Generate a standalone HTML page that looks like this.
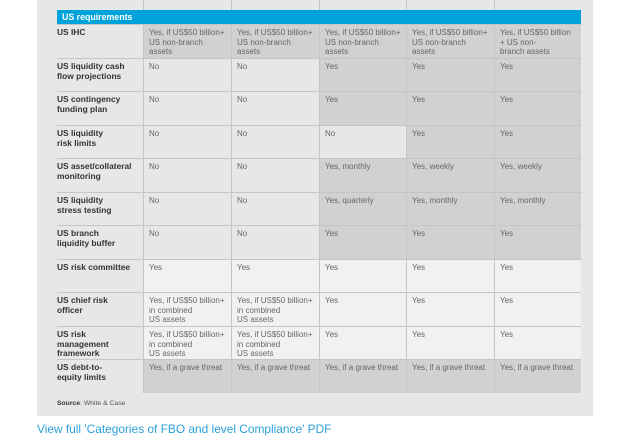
<!DOCTYPE html>
<html><head><meta charset="utf-8"><style>
body{margin:0;width:629px;height:445px;background:#fff;position:relative;overflow:hidden;font-family:"Liberation Sans",sans-serif}
#panel{position:absolute;left:37px;top:0;width:556px;height:416px;background:#e6e7e8}
.c{position:absolute;box-sizing:border-box;padding:3px 6px 3px 5px;font-size:8px;line-height:9.6px;color:#666;border-top:1px solid #c4c5c7;border-left:1px solid #c4c5c7}
.l{position:absolute;box-sizing:border-box;padding:3px 4px 3px 0;font-size:8.4px;line-height:9.6px;color:#333;font-weight:bold;border-top:1px solid #c4c5c7;left:57px;width:86px}
.d{background:#d0d1d3}.w{background:#f0f1f1}
#bar{position:absolute;left:57px;top:10px;width:524px;height:14px;background:#00a3d9;color:#fff;font-weight:bold;font-size:8.8px;line-height:14px;padding-left:5px;box-sizing:border-box}
</style></head><body>
<div id="panel"></div>
<div style="position:absolute;left:143px;top:0;width:1px;height:10px;background:#c4c5c7"></div>
<div style="position:absolute;left:231px;top:0;width:1px;height:10px;background:#c4c5c7"></div>
<div style="position:absolute;left:319px;top:0;width:1px;height:10px;background:#c4c5c7"></div>
<div style="position:absolute;left:406px;top:0;width:1px;height:10px;background:#c4c5c7"></div>
<div style="position:absolute;left:494px;top:0;width:1px;height:10px;background:#c4c5c7"></div>
<div id="bar">US requirements</div>
<div id="t"></div>
<script>
const xs=[143,231,319,406,494,581];
const rows=[
["US IHC",["Yes, if US$50 billion+<br>US non-branch<br>assets","Yes, if US$50 billion+<br>US non-branch<br>assets","Yes, if US$50 billion+<br>US non-branch<br>assets","Yes, if US$50 billion+<br>US non-branch<br>assets","Yes, if US$50 billion<br>+ US non-<br>branch assets"],"ddddd"],
["US liquidity cash<br>flow projections",["No","No","Yes","Yes","Yes"],"nnddd"],
["US contingency<br>funding plan",["No","No","Yes","Yes","Yes"],"nnddd"],
["US liquidity<br>risk limits",["No","No","No","Yes","Yes"],"nnndd"],
["US asset/collateral<br>monitoring",["No","No","Yes, monthly","Yes, weekly","Yes, weekly"],"nnddd"],
["US liquidity<br>stress testing",["No","No","Yes, quarterly","Yes, monthly","Yes, monthly"],"nnddd"],
["US branch<br>liquidity buffer",["No","No","Yes","Yes","Yes"],"nnddd"],
["US risk committee",["Yes","Yes","Yes","Yes","Yes"],"wwwww"],
["US chief risk<br>officer",["Yes, if US$50 billion+<br>in combined<br>US assets","Yes, if US$50 billion+<br>in combined<br>US assets","Yes","Yes","Yes"],"wwwww"],
["US risk<br>management<br>framework",["Yes, if US$50 billion+<br>in combined<br>US assets","Yes, if US$50 billion+<br>in combined<br>US assets","Yes","Yes","Yes"],"wwwww"],
["US debt-to-<br>equity limits",["Yes, if a grave threat","Yes, if a grave threat","Yes, if a grave threat","Yes, if a grave threat","Yes, if a grave threat"],"ddddd"]];
let h="";const y0=24,rh=33.5;
rows.forEach((r,i)=>{const y=Math.round(y0+i*rh),yh=Math.round(y0+(i+1)*rh)-y;
h+=`<div class="l" style="top:${y}px;height:${yh}px">${r[0]}</div>`;
for(let j=0;j<5;j++){const s=r[2][j];h+=`<div class="c ${s=='d'?'d':s=='w'?'w':''}" style="left:${xs[j]}px;width:${xs[j+1]-xs[j]}px;top:${y}px;height:${yh}px;white-space:nowrap;overflow:hidden">${r[1][j]}</div>`;}
});
document.getElementById('t').innerHTML=h;
</script>
<div style="position:absolute;left:57px;top:400px;font-size:6.8px;color:#555"><b style="color:#333">Source</b>: White &amp; Case</div>
<div style="position:absolute;left:37px;top:422px;font-size:11.9px;color:#2a9fd8">View full 'Categories of FBO and level Compliance' PDF</div>
</body></html>
